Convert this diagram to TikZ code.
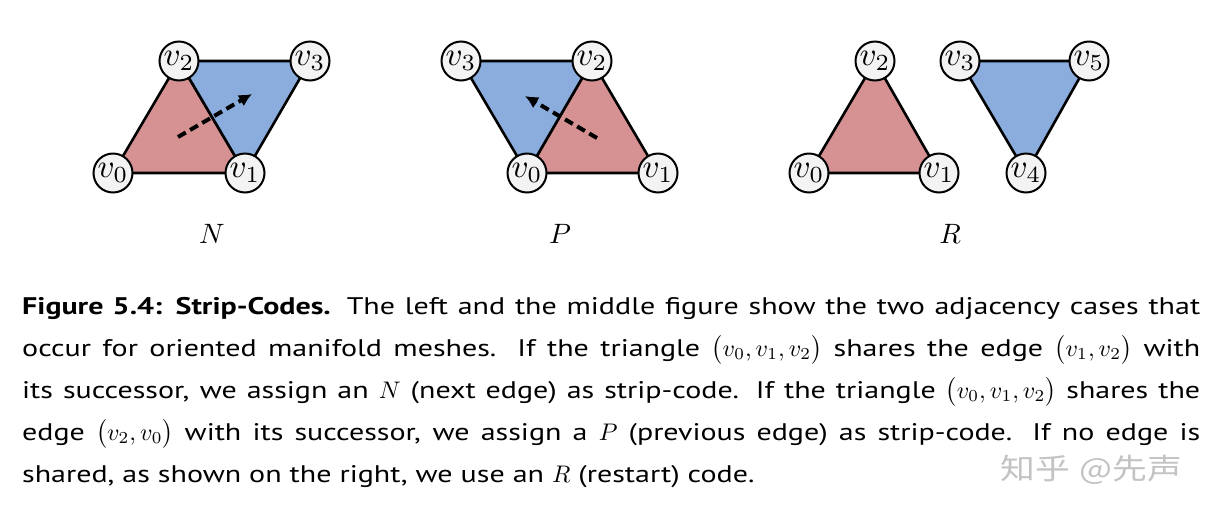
\RequirePackage{fix-cm}
\documentclass[tikz,border=0pt]{standalone}
\usepackage{fontspec}
\setsansfont{PT Sans}[FakeStretch=1.25]
\newfontfamily\cjkfont{Noto Sans CJK SC}[FakeStretch=1.2]
\usetikzlibrary{arrows.meta}
\definecolor{tred}{RGB}{214,146,146}
\definecolor{tblue}{RGB}{138,173,222}
\definecolor{vfill}{RGB}{244,243,243}
\definecolor{wmark}{RGB}{195,195,195}
\newcommand{\capfont}{\sffamily\fontsize{24}{42}\selectfont}
\newcommand{\capline}[1]{\makebox[1178pt][s]{#1}}
\newcommand{\sm}[2]{\scalebox{#1}{\normalsize$#2$}}
\newcommand{\cm}[1]{\sm{2.4}{#1}}
\begin{document}
\begin{tikzpicture}[x=1pt,y=-1pt,
  vert/.style={circle,draw=black,line width=2pt,fill=vfill,minimum size=39pt,inner sep=0pt},
  face/.style={draw=black,line width=2.6pt,line join=round},
  redface/.style={face,fill=tred},
  blueface/.style={face,fill=tblue},
  flow/.style={line width=4pt,dash pattern=on 9pt off 5pt,-{Latex[length=13pt,width=13pt]}},
  code/.style={inner sep=0pt},
  captext/.style={anchor=base west,inner sep=0pt,font=\capfont},
  wm/.style={anchor=base west,inner sep=0pt,text=wmark,font=\cjkfont\fontsize{29}{29}\selectfont}]
\useasboundingbox (0,0) rectangle (1222,520);
\fill[white] (0,0) rectangle (1222,520);

% ---------- N ----------
\coordinate (a0) at (113,173);
\coordinate (a1) at (245,173);
\coordinate (a2) at (179,61);
\coordinate (a3) at (310,61);
\filldraw[redface] (a0) -- (a1) -- (a2) -- cycle;
\filldraw[blueface] (a2) -- (a1) -- (a3) -- cycle;
\coordinate (as) at (178,137);
\coordinate (ae) at (252,94);
\draw[flow] (as) -- (ae);
\node[vert] (nv0) at (a0) {\sm{3.3}{v_0}};
\node[vert] (nv1) at (a1) {\sm{3.3}{v_1}};
\node[vert] (nv2) at (a2) {\sm{3.3}{v_2}};
\node[vert] (nv3) at (a3) {\sm{3.3}{v_3}};
\node[code] (lN) at (212,234) {\sm{2.8}{N}};

% ---------- P ----------
\coordinate (b0) at (527,173);
\coordinate (b1) at (658,173);
\coordinate (b2) at (592,61);
\coordinate (b3) at (461,61);
\filldraw[redface] (b0) -- (b1) -- (b2) -- cycle;
\filldraw[blueface] (b0) -- (b2) -- (b3) -- cycle;
\coordinate (bs) at (597,138);
\coordinate (be) at (525,96);
\draw[flow] (bs) -- (be);
\node[vert] (pv0) at (b0) {\sm{3.3}{v_0}};
\node[vert] (pv1) at (b1) {\sm{3.3}{v_1}};
\node[vert] (pv2) at (b2) {\sm{3.3}{v_2}};
\node[vert] (pv3) at (b3) {\sm{3.3}{v_3}};
\node[code] (lP) at (560,234) {\sm{2.8}{P}};

% ---------- R ----------
\coordinate (c0) at (809,173);
\coordinate (c1) at (939,173);
\coordinate (c2) at (875,61);
\coordinate (c3) at (960,61);
\coordinate (c4) at (1026,173);
\coordinate (c5) at (1089,61);
\filldraw[redface] (c0) -- (c1) -- (c2) -- cycle;
\filldraw[blueface] (c3) -- (c4) -- (c5) -- cycle;
\node[vert] (rv0) at (c0) {\sm{3.3}{v_0}};
\node[vert] (rv1) at (c1) {\sm{3.3}{v_1}};
\node[vert] (rv2) at (c2) {\sm{3.3}{v_2}};
\node[vert] (rv3) at (c3) {\sm{3.3}{v_3}};
\node[vert] (rv4) at (c4) {\sm{3.3}{v_4}};
\node[vert] (rv5) at (c5) {\sm{3.3}{v_5}};
\node[code] (lR) at (950,234) {\sm{2.8}{R}};

% ---------- caption ----------
\node[captext] (l1) at (22,314) {\capline{\textbf{Figure 5.4: Strip-Codes.} The left and the middle figure show the two adjacency cases that}};
\node[captext] (l2) at (22,356) {\capline{occur for oriented manifold meshes. If the triangle \cm{\bigl(v_0,v_1,v_2\bigr)} shares the edge \cm{\bigl(v_1,v_2\bigr)} with}};
\node[captext] (l3) at (22,398) {\capline{its successor, we assign an \cm{N} (next edge) as strip-code. If the triangle \cm{\bigl(v_0,v_1,v_2\bigr)} shares the}};
\node[captext] (l4) at (22,440) {\capline{edge \cm{\bigl(v_2,v_0\bigr)} with its successor, we assign a \cm{P} (previous edge) as strip-code. If no edge is}};
\node[captext] (l5) at (22,482) {shared, as shown on the right, we use an \cm{R} (restart) code.};
\node[wm] (wm) at (1000,479) {知乎\hspace{10pt}@先声};
\end{tikzpicture}
\end{document}
